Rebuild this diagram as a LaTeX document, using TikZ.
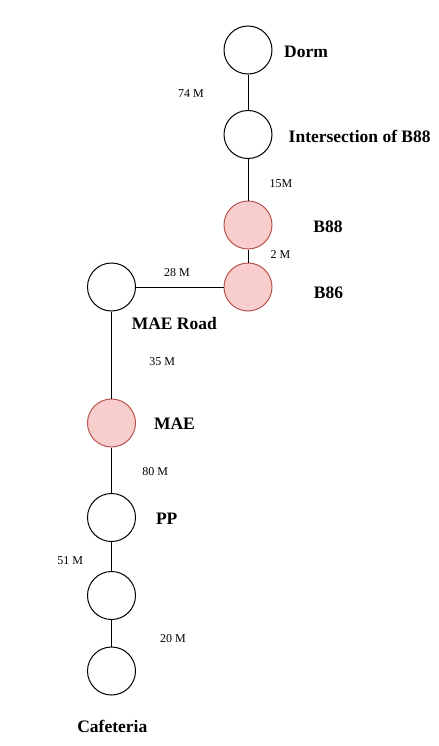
\documentclass[tikz,border=0pt]{standalone}
\usepackage{fontspec}
\setmainfont{Liberation Serif}
\definecolor{pinkfill}{HTML}{F8CECC}
\definecolor{pinkdraw}{HTML}{B85450}
\tikzset{
  spot/.style={circle, draw=black, fill=white, line width=1bp, minimum size=48bp, inner sep=0pt},
  hot/.style={spot, draw=pinkdraw, fill=pinkfill},
  place/.style={font=\fontsize{17.5bp}{21bp}\selectfont\bfseries, inner sep=0pt, anchor=center},
  dist/.style={font=\fontsize{12bp}{14bp}\selectfont, inner sep=0pt, anchor=center},
  link/.style={draw=black, line width=1bp}
}
\begin{document}
\begin{tikzpicture}[x=1bp,y=-1bp]
\useasboundingbox[fill=white] (0,0) rectangle (439,746);
% circles
\node[spot] (dorm) at (248,50) {};
\node[spot] (inter) at (248,134.5) {};
\node[hot] (b88) at (248,225) {};
\node[hot] (b86) at (248,287) {};
\node[spot] (maeroad) at (111.5,287) {};
\node[hot] (mae) at (111.5,423) {};
\node[spot] (pp) at (111.5,517.5) {};
\node[spot] (mid) at (111.5,595.5) {};
\node[spot] (caf) at (111.5,671) {};
% connectors
\draw[link] (dorm) -- (inter);
\draw[link] (inter) -- (b88);
\draw[link] (b88) -- (b86);
\draw[link] (b86) -- (maeroad);
\draw[link] (maeroad) -- (mae);
\draw[link] (mae) -- (pp);
\draw[link] (pp) -- (mid);
\draw[link] (mid) -- (caf);
% place labels
\node[place] (tdorm) at (306,52) {Dorm};
\node[place] (tinter) at (359.7,136.5) {Intersection of B88};
\node[place] (tb88) at (328,226.5) {B88};
\node[place] (tb86) at (328.5,292.5) {B86};
\node[place] (tmaeroad) at (174.3,324) {MAE Road};
\node[place] (tmae) at (174.5,423.3) {MAE};
\node[place] (tpp) at (166.7,518.3) {PP};
\node[place] (tcaf) at (112.3,726.5) {Cafeteria};
% distance labels
\node[dist] (d1) at (191,94) {74 M};
\node[dist] (d2) at (281,184) {15M};
\node[dist] (d3) at (280.5,255) {2 M};
\node[dist] (d4) at (177,272.5) {28 M};
\node[dist] (d5) at (162.3,361.3) {35 M};
\node[dist] (d6) at (155.3,471.3) {80 M};
\node[dist] (d7) at (70.2,560.7) {51 M};
\node[dist] (d8) at (173,638.3) {20 M};
\end{tikzpicture}
\end{document}
